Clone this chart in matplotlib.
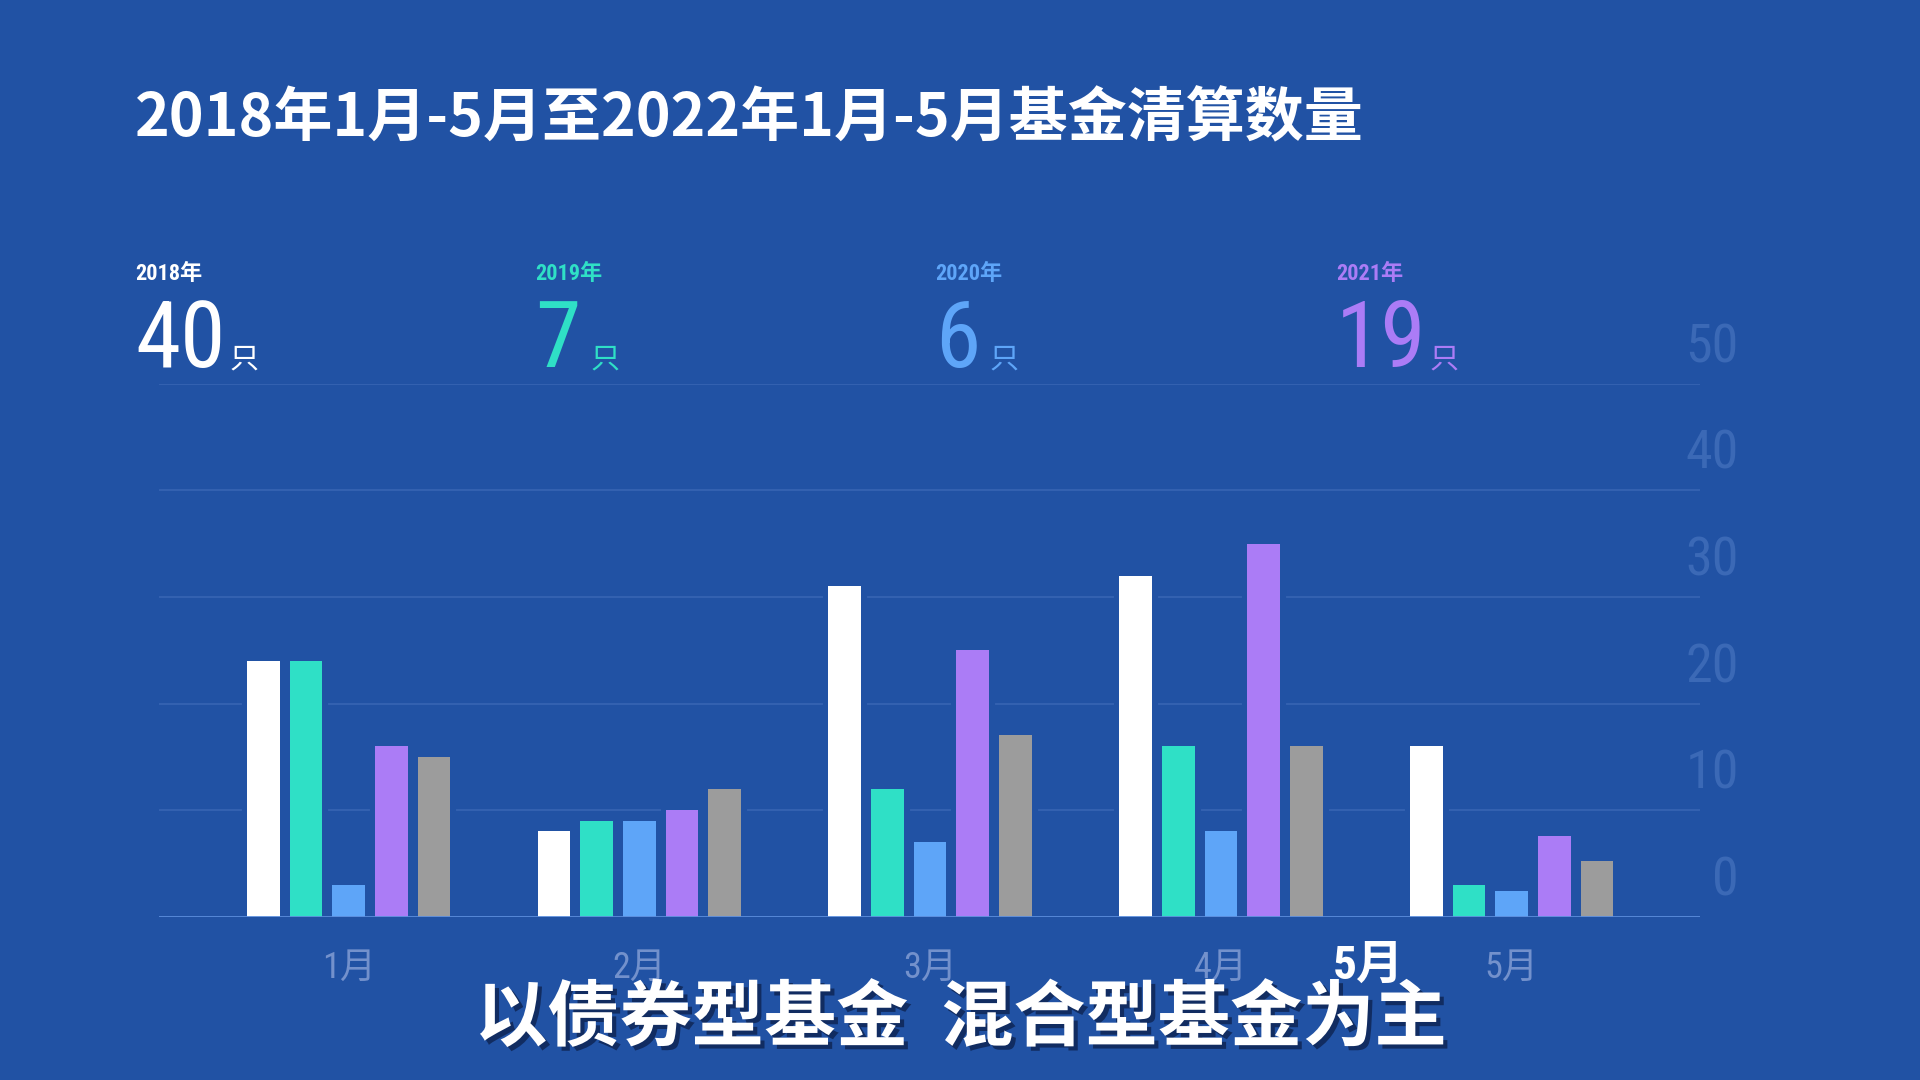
import matplotlib
matplotlib.use('Agg')
import matplotlib.pyplot as plt
import matplotlib.patheffects as pe
from matplotlib import font_manager
from matplotlib.transforms import ScaledTranslation
import numpy as np

plt.rcParams['font.family'] = ['Noto Sans CJK SC', 'DejaVu Sans']

# data
months = ['1月', '2月', '3月', '4月', '5月']
years = ['2018年', '2019年', '2020年', '2021年', '2022年']
v2018 = [24, 8, 31, 32, 16]
v2019 = [24, 9, 12, 16, 3]
v2020 = [3, 9, 7, 8, 2.4]
v2021 = [16, 10, 25, 35, 7.6]
v2022 = [15, 12, 17, 16, 5.2]
series = [v2018, v2019, v2020, v2021, v2022]

head_years = ['2018年', '2019年', '2020年', '2021年']
head_counts = ['40', '7', '6', '19']
y_ticks = [0, 10, 20, 30, 40, 50]

title = '2018年1月-5月至2022年1月-5月基金清算数量'
subtitle = '以债券型基金  混合型基金为主'

bg = '#2152a4'
colors = ['#ffffff', '#2fe0c6', '#5ea5f8', '#ab7cf6', '#9c9c9c']
grid_c = '#3563b2'
tick_c = '#3b69b6'
month_c = '#7391cc'

# pick a narrow face for the numbers if one is installed
names = {f.name for f in font_manager.fontManager.ttflist}
cond = 'Noto Sans CJK SC'
stretch = 'normal'
for n in ['Roboto Condensed', 'Liberation Sans Narrow', 'Open Sans Condensed']:
    if n in names:
        cond = n
        break
else:
    for f in font_manager.fontManager.ttflist:
        if f.name == 'DejaVu Sans' and f.stretch == 'condensed':
            cond = 'DejaVu Sans'
            stretch = 'condensed'
            break
num_family = [cond, 'Noto Sans CJK SC', 'DejaVu Sans']

fig = plt.figure(figsize=(19.2, 10.8), dpi=100, facecolor=bg)
ax = fig.add_axes([0.0828, 0.1512, 0.8026, 0.4935])
ax.set_facecolor(bg)

x = np.arange(len(months))
pitch = 0.1469
width = 0.1125
for i, vals in enumerate(series):
    ax.bar(x + (i - 2) * pitch, vals, width, color=colors[i], zorder=3,
           path_effects=[pe.Stroke(linewidth=8, foreground=bg), pe.Normal()])

ax.set_xlim(-0.6526, 4.648)
ax.set_ylim(0, 50)
for v in y_ticks[1:]:
    ax.axhline(v, color=grid_c, lw=1.3, zorder=1)
ax.axhline(0, color='#5b8ddc', lw=2, zorder=5)

for s in ax.spines.values():
    s.set_visible(False)
ax.set_yticks([])
ax.set_xticks(x)
ax.set_xticklabels(months, color=month_c, fontsize=26, family=num_family,
                   fontstretch=stretch)
ax.tick_params(axis='x', length=0, pad=24)

# value labels on the right, sitting above their grid lines
off = ScaledTranslation(0, 0.36, fig.dpi_scale_trans)
for v in y_ticks:
    ax.text(1.0253, v, str(v), transform=ax.get_yaxis_transform() + off,
            ha='right', va='center', fontsize=39, color=tick_c,
            family=num_family, fontstretch=stretch)

fig.text(135 / 1920, 1 - 119 / 1080, title, color='white', fontsize=42.5,
         fontweight='bold', ha='left', va='center')

head_x = [135, 535, 935, 1336]
unit_gap = [95, 56, 55, 94]
for i in range(4):
    fx = head_x[i] / 1920
    fig.text(fx, 1 - 274 / 1080, head_years[i], color=colors[i], fontsize=16,
             fontweight='bold', family=num_family, fontstretch=stretch,
             ha='left', va='center')
    fig.text(fx, 1 - 367 / 1080, head_counts[i], color=colors[i], fontsize=66,
             family=num_family, fontstretch=stretch, ha='left', va='baseline')
    fig.text((head_x[i] + unit_gap[i]) / 1920, 1 - 368 / 1080, '只',
             color=colors[i], fontsize=21, fontweight='light',
             ha='left', va='baseline')

# stray label left over from the animation
fig.text(1368 / 1920, 1 - 966 / 1080, '5月', color='white', fontsize=34,
         fontweight='bold', family=num_family, fontstretch=stretch,
         ha='center', va='center')

fig.text(961 / 1920, 1 - 1019 / 1080, subtitle, color='white', fontsize=52,
         fontweight='bold', ha='center', va='center',
         path_effects=[pe.SimplePatchShadow(offset=(3, -3), shadow_rgbFace='#0b1d45',
                                            alpha=0.7), pe.Normal()])

fig.savefig('out.png', dpi=100, facecolor=bg)
